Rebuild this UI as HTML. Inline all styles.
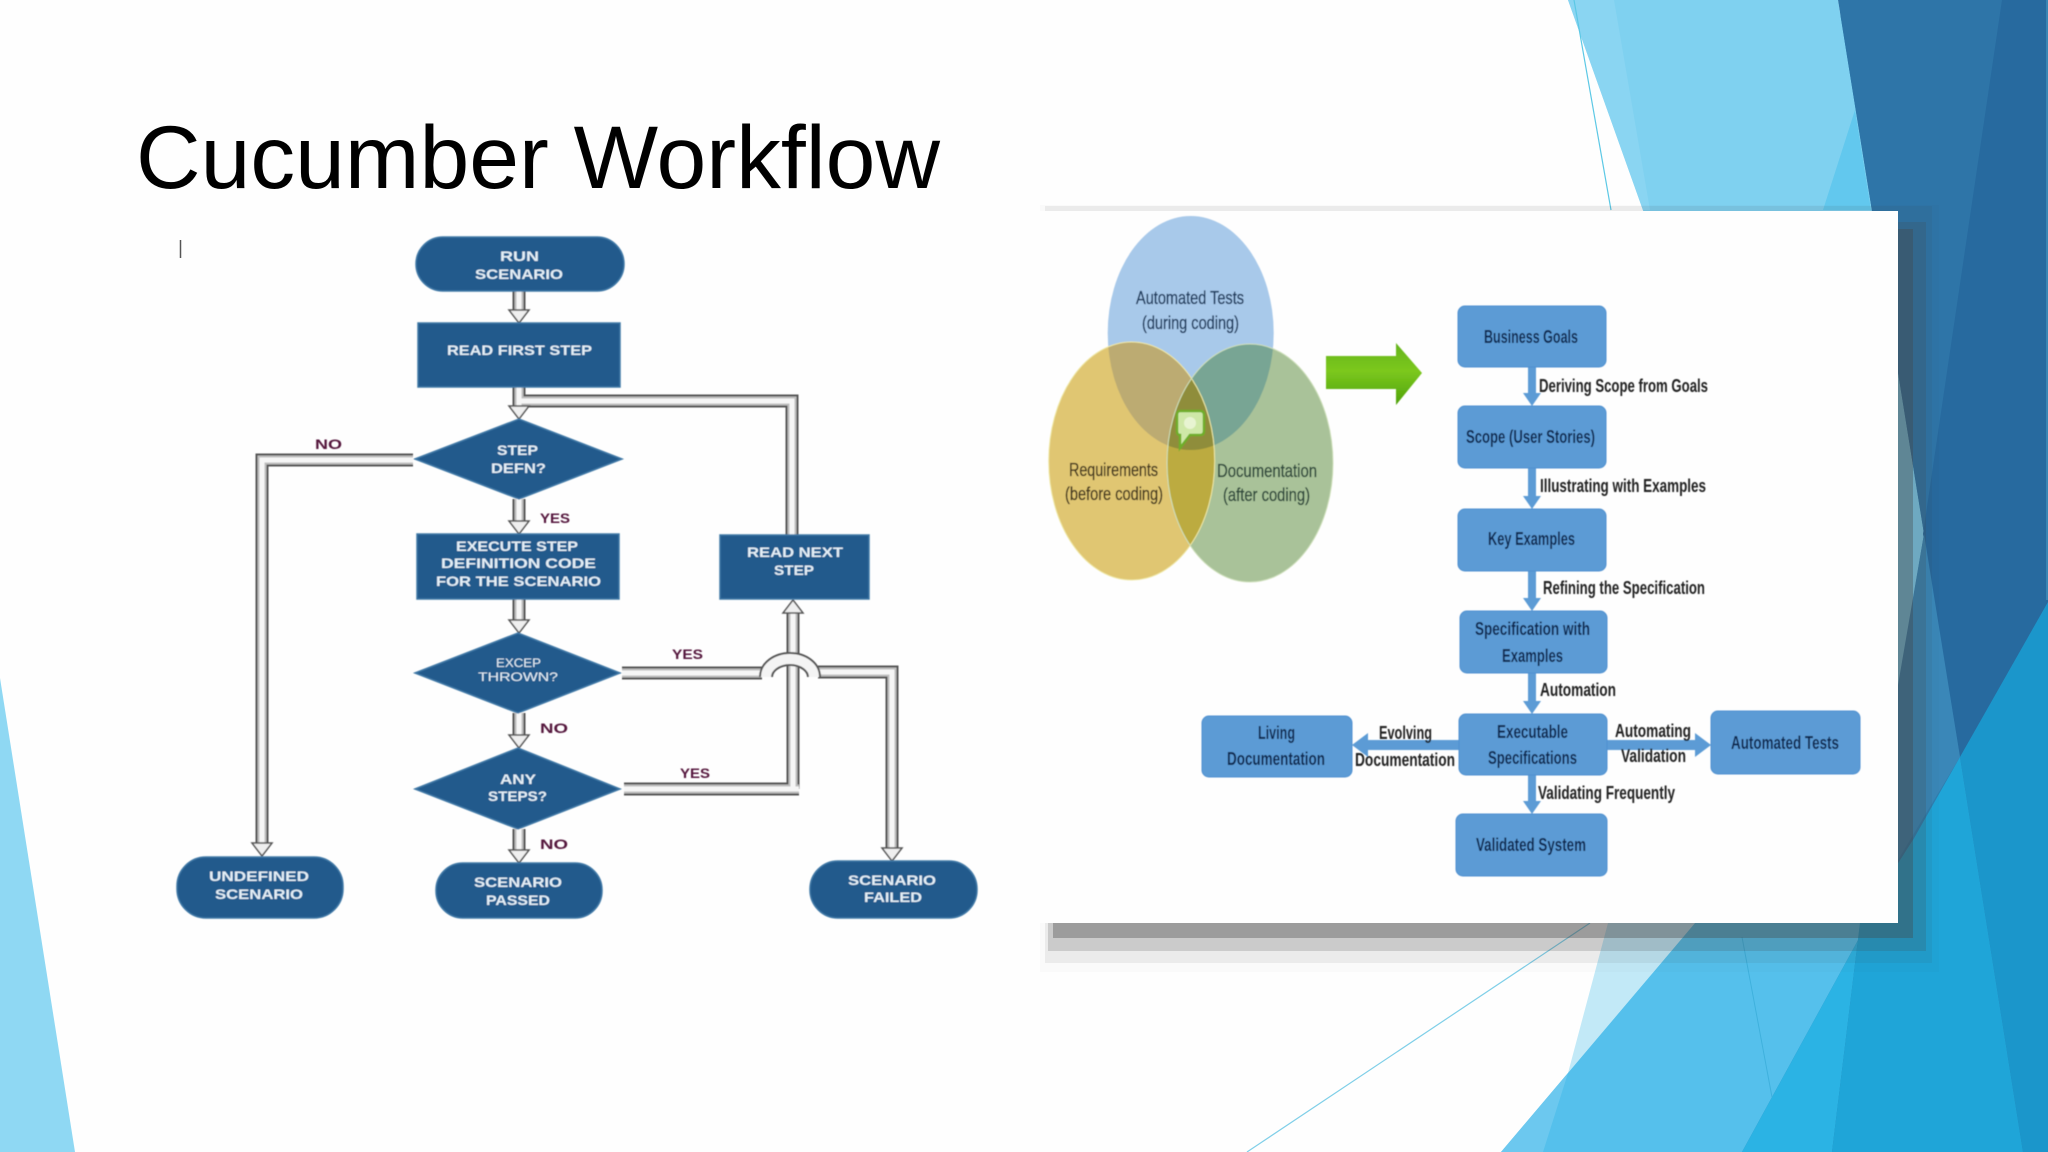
<!DOCTYPE html>
<html><head><meta charset="utf-8"><title>Cucumber Workflow</title>
<style>html,body{margin:0;padding:0;background:#fefefe;width:2048px;height:1152px;overflow:hidden}svg{display:block}text{font-family:"Liberation Sans",sans-serif}</style>
</head><body>
<svg width="2048" height="1152" viewBox="0 0 2048 1152" xmlns="http://www.w3.org/2000/svg">
<defs>
<linearGradient id="gr" x1="0" y1="0" x2="0" y2="1"><stop offset="0" stop-color="#64b41a"/><stop offset=".45" stop-color="#7cc81f"/><stop offset="1" stop-color="#4fa208"/></linearGradient>
<filter id="b1" x="-5%" y="-5%" width="110%" height="110%"><feGaussianBlur stdDeviation="0.55"/></filter>
<filter id="b2" x="-5%" y="-5%" width="110%" height="110%"><feGaussianBlur stdDeviation="0.55"/></filter>
<clipPath id="cT"><ellipse cx="1190.7" cy="333" rx="83" ry="117"/></clipPath>
<clipPath id="cL"><ellipse cx="1131.7" cy="461" rx="83" ry="119"/></clipPath>
<clipPath id="cR"><ellipse cx="1250" cy="463" rx="83" ry="119"/></clipPath>
<g id="c" fill="none">
<path d="M519 291V312"/><path d="M519 387V408"/><path d="M792 536V401H519"/>
<path d="M413 460H262V845"/><path d="M519 499V523"/><path d="M519 599V622"/>
<path d="M519 713V737"/><path d="M519 829V852"/>
<path d="M793 789V610"/><path d="M624 789H799"/>
<path d="M622 673H762"/><path d="M818 672H892V850"/>
</g>
<g id="arc" fill="none"><path d="M766 677A24 18 0 0 1 814 677"/></g>
<polygon id="hd" points="-10,0 10,0 0,13"/>
</defs>

<!-- background shapes -->
<polygon points="0,678 75,1152 0,1152" fill="#8fd8f3"/>
<polygon points="1840,0 2048,0 2048,1152 1740,1152 1860,923" fill="#2f7fb0"/>
<polygon points="1568,0 1838,0 1924,534 1860,915 1650,230" fill="#7fd1f0"/>
<polygon points="1568,0 1614,0 1650,210 1643,210" fill="#8ad5f2"/>
<polygon points="1855,110 1871,210 1823,210" fill="#62c8ee"/>
<polygon points="1838,0 2048,0 2048,602 1960,757" fill="#2e75a8"/>
<polygon points="2002,0 2048,0 2048,602 1960,757 1923,534" fill="#276a9f"/>
<rect x="2046" y="0" width="2" height="600" fill="#3a86b4"/>
<polygon points="1924,534 1960,757 1898,860 1898,685" fill="#3a87b8"/>
<line x1="1574" y1="0" x2="1611" y2="210" stroke="#5cc8e5" stroke-width="1.2"/>
<polygon points="1608,923 1695,923 1568,1073" fill="#c2e9f7"/>
<polygon points="1501,1152 1695,923 1700,900 1880,900 1742,1152" fill="#55c0ec"/>
<polygon points="1501,1152 1543,1152 1568,1073" fill="#6cc8ef"/>
<polygon points="1742,1152 1880,900 1913,840 1860,923 1832,1152" fill="#2bb3e4"/>
<polygon points="1960,757 2023,1152 1832,1152 1860,923 1913,840" fill="#1fa5d8"/>
<polygon points="1960,757 2048,602 2048,1152 2023,1152" fill="#1b96cb"/>
<line x1="1742" y1="937" x2="1772" y2="1097" stroke="#3fb0dd" stroke-width="1"/>
<line x1="1590" y1="923" x2="1247" y2="1152" stroke="#7fcfe8" stroke-width="1.2"/>

<!-- picture shadow -->
<rect x="1040" y="205" width="899" height="767" fill="#444" opacity=".02"/>
<rect x="1045" y="206" width="887" height="757" fill="#444" opacity=".08"/>
<rect x="1048" y="222" width="878" height="729" fill="#444" opacity=".19"/>
<rect x="1053" y="229" width="860" height="709" fill="#444" opacity=".35"/>
<rect x="1027" y="211" width="871" height="712" fill="#fefefe"/>

<!-- title -->
<text x="136" y="188" font-size="89" fill="#000" textLength="804" lengthAdjust="spacingAndGlyphs">Cucumber Workflow</text>
<line x1="180.500" y1="240" x2="180.500" y2="258" stroke="#555" stroke-width="1.5"/>

<!-- flowchart -->
<g filter="url(#b1)">
<use href="#c" stroke="#555" stroke-width="13"/>
<use href="#c" stroke="#bdbdbd" stroke-width="9"/>
<use href="#c" stroke="#f6f6f6" stroke-width="5"/>
<use href="#arc" stroke="#555" stroke-width="14"/>
<use href="#arc" stroke="#f4f4f4" stroke-width="10"/>
<g fill="#efefef" stroke="#555" stroke-width="1.5">
<use href="#hd" transform="translate(519,310)"/><use href="#hd" transform="translate(519,406)"/>
<use href="#hd" transform="translate(262,843)"/><use href="#hd" transform="translate(519,521)"/>
<use href="#hd" transform="translate(519,620)"/><use href="#hd" transform="translate(519,735)"/>
<use href="#hd" transform="translate(519,850)"/><use href="#hd" transform="translate(892,848)"/>
<use href="#hd" transform="translate(793,613) scale(1,-1)"/>
</g>
<g fill="#225a8c" stroke="#3f78a6" stroke-width="1.5">
<rect x="416" y="237" width="208" height="54" rx="27"/>
<rect x="418" y="323" width="202" height="64"/>
<polygon points="415,459 519,419 622,459 519,499"/>
<rect x="417" y="534" width="202" height="65"/>
<rect x="720" y="535" width="149" height="64"/>
<polygon points="415,673 518,633 620,673 518,713"/>
<polygon points="415,789 518,748 620,789 518,829"/>
<rect x="177" y="857" width="166" height="61" rx="29"/>
<rect x="436" y="863" width="166" height="55" rx="27"/>
<rect x="810" y="861" width="167" height="57" rx="28"/>
</g>
<g fill="#e4eff7" font-size="14" font-weight="bold">
<text x="500" y="261" textLength="39" lengthAdjust="spacingAndGlyphs">RUN</text>
<text x="475" y="279" textLength="88" lengthAdjust="spacingAndGlyphs">SCENARIO</text>
<text x="447" y="355" textLength="145" lengthAdjust="spacingAndGlyphs">READ FIRST STEP</text>
<text x="497" y="455" textLength="41" lengthAdjust="spacingAndGlyphs">STEP</text>
<text x="491" y="473" textLength="55" lengthAdjust="spacingAndGlyphs">DEFN?</text>
<text x="456" y="551" textLength="122" lengthAdjust="spacingAndGlyphs">EXECUTE STEP</text>
<text x="441" y="568" textLength="155" lengthAdjust="spacingAndGlyphs">DEFINITION CODE</text>
<text x="436" y="586" textLength="165" lengthAdjust="spacingAndGlyphs">FOR THE SCENARIO</text>
<text x="747" y="557" textLength="96" lengthAdjust="spacingAndGlyphs">READ NEXT</text>
<text x="774" y="575" textLength="40" lengthAdjust="spacingAndGlyphs">STEP</text>
<text x="496" y="667" textLength="45" font-size="12" font-weight="normal" lengthAdjust="spacingAndGlyphs">EXCEP</text>
<text x="478" y="681" textLength="80" font-size="12" font-weight="normal" lengthAdjust="spacingAndGlyphs">THROWN?</text>
<text x="500" y="784" textLength="36" lengthAdjust="spacingAndGlyphs">ANY</text>
<text x="488" y="801" textLength="59" lengthAdjust="spacingAndGlyphs">STEPS?</text>
<text x="209" y="881" textLength="100" lengthAdjust="spacingAndGlyphs">UNDEFINED</text>
<text x="215" y="899" textLength="88" lengthAdjust="spacingAndGlyphs">SCENARIO</text>
<text x="474" y="887" textLength="88" lengthAdjust="spacingAndGlyphs">SCENARIO</text>
<text x="486" y="905" textLength="64" lengthAdjust="spacingAndGlyphs">PASSED</text>
<text x="848" y="885" textLength="88" lengthAdjust="spacingAndGlyphs">SCENARIO</text>
<text x="864" y="902" textLength="58" lengthAdjust="spacingAndGlyphs">FAILED</text>
</g>
<g fill="#54183c" font-size="14" font-weight="bold">
<text x="315" y="449" textLength="27" lengthAdjust="spacingAndGlyphs">NO</text>
<text x="540" y="523" textLength="30" lengthAdjust="spacingAndGlyphs">YES</text>
<text x="672" y="659" textLength="31" lengthAdjust="spacingAndGlyphs">YES</text>
<text x="540" y="733" textLength="28" lengthAdjust="spacingAndGlyphs">NO</text>
<text x="680" y="778" textLength="30" lengthAdjust="spacingAndGlyphs">YES</text>
<text x="540" y="849" textLength="28" lengthAdjust="spacingAndGlyphs">NO</text>
</g>
</g>

<!-- venn -->
<g filter="url(#b2)">
<ellipse cx="1190.7" cy="333" rx="83" ry="117" fill="#a8c9ea"/>
<ellipse cx="1250" cy="463" rx="83" ry="119" fill="#a9c299"/>
<ellipse cx="1131.7" cy="461" rx="83" ry="119" fill="#e0c672"/>
<g clip-path="url(#cL)"><ellipse cx="1190.7" cy="333" rx="83" ry="117" fill="#bcab72"/></g>
<g clip-path="url(#cR)"><ellipse cx="1190.7" cy="333" rx="83" ry="117" fill="#78a594"/></g>
<g clip-path="url(#cR)"><ellipse cx="1131.7" cy="461" rx="83" ry="119" fill="#bcab3f"/></g>
<g clip-path="url(#cT)"><g clip-path="url(#cR)"><ellipse cx="1131.7" cy="461" rx="83" ry="119" fill="#8f8d3a"/></g></g>
<ellipse cx="1131.7" cy="461" rx="83" ry="119" fill="none" stroke="#efe8a6" stroke-width="1"/>
<ellipse cx="1250" cy="463" rx="83" ry="119" fill="none" stroke="#cfe0bc" stroke-width="1"/>
<path d="M1180 411H1200Q1204 411 1204 415V431Q1204 435 1200 435H1190L1180 448V435Q1177 435 1177 431V415Q1177 411 1180 411Z" fill="#cfe8a8" stroke="#6fae2a" stroke-width="2.500"/>
<circle cx="1190" cy="423" r="6" fill="#e8f4d2"/>
<g font-size="18" stroke-width=".35">
<text x="1136" y="304" textLength="108" lengthAdjust="spacingAndGlyphs" fill="#1f3d60" stroke="#1f3d60">Automated Tests</text>
<text x="1142" y="329" textLength="97" lengthAdjust="spacingAndGlyphs" fill="#1f3d60" stroke="#1f3d60">(during coding)</text>
<text x="1069" y="476" textLength="89" lengthAdjust="spacingAndGlyphs" fill="#463a20" stroke="#463a20">Requirements</text>
<text x="1065" y="500" textLength="98" lengthAdjust="spacingAndGlyphs" fill="#463a20" stroke="#463a20">(before coding)</text>
<text x="1217" y="477" textLength="100" lengthAdjust="spacingAndGlyphs" fill="#2f4a3c" stroke="#2f4a3c">Documentation</text>
<text x="1223" y="501" textLength="87" lengthAdjust="spacingAndGlyphs" fill="#2f4a3c" stroke="#2f4a3c">(after coding)</text>
</g>
<polygon points="1326,356 1396,356 1396,343 1422,373 1396,405 1396,389 1326,389" fill="url(#gr)"/>

<!-- right flow -->
<g fill="#5b9bd5">
<path d="M1528 367H1536V393H1541L1532 406L1523 393H1528Z"/>
<path d="M1528 468H1536V496H1541L1532 509L1523 496H1528Z"/>
<path d="M1528 571H1536V598H1541L1532 611L1523 598H1528Z"/>
<path d="M1528 673H1536V701H1541L1532 714L1523 701H1528Z"/>
<path d="M1528 775H1536V801H1541L1532 814L1523 801H1528Z"/>
<path d="M1459 740V750H1368V757L1352 745L1368 733V740Z"/>
<path d="M1607 740V750H1695V757L1711 745L1695 733V740Z"/>
</g>
<g fill="#5b9bd5" stroke="#4f90d0" stroke-width="1">
<rect x="1458" y="306" width="148" height="61" rx="7"/>
<rect x="1458" y="406" width="148" height="62" rx="7"/>
<rect x="1458" y="509" width="148" height="62" rx="7"/>
<rect x="1460" y="611" width="147" height="62" rx="7"/>
<rect x="1459" y="714" width="148" height="61" rx="7"/>
<rect x="1456" y="814" width="151" height="62" rx="7"/>
<rect x="1202" y="716" width="150" height="61" rx="7"/>
<rect x="1711" y="711" width="149" height="63" rx="7"/>
</g>
<g font-size="18" font-weight="bold" fill="#0c2850">
<text x="1484" y="343" textLength="94" lengthAdjust="spacingAndGlyphs">Business Goals</text>
<text x="1466" y="443" textLength="129" lengthAdjust="spacingAndGlyphs">Scope (User Stories)</text>
<text x="1488" y="545" textLength="87" lengthAdjust="spacingAndGlyphs">Key Examples</text>
<text x="1475" y="635" textLength="115" lengthAdjust="spacingAndGlyphs">Specification with</text>
<text x="1502" y="662" textLength="61" lengthAdjust="spacingAndGlyphs">Examples</text>
<text x="1497" y="738" textLength="71" lengthAdjust="spacingAndGlyphs">Executable</text>
<text x="1488" y="764" textLength="89" lengthAdjust="spacingAndGlyphs">Specifications</text>
<text x="1476" y="851" textLength="110" lengthAdjust="spacingAndGlyphs">Validated System</text>
<text x="1258" y="739" textLength="37" lengthAdjust="spacingAndGlyphs">Living</text>
<text x="1227" y="765" textLength="98" lengthAdjust="spacingAndGlyphs">Documentation</text>
<text x="1731" y="749" textLength="108" lengthAdjust="spacingAndGlyphs">Automated Tests</text>
</g>
<g font-size="18" font-weight="bold" fill="#222">
<text x="1539" y="392" textLength="169" lengthAdjust="spacingAndGlyphs">Deriving Scope from Goals</text>
<text x="1540" y="492" textLength="166" lengthAdjust="spacingAndGlyphs">Illustrating with Examples</text>
<text x="1543" y="594" textLength="162" lengthAdjust="spacingAndGlyphs">Refining the Specification</text>
<text x="1540" y="696" textLength="76" lengthAdjust="spacingAndGlyphs">Automation</text>
<text x="1379" y="739" textLength="53" lengthAdjust="spacingAndGlyphs">Evolving</text>
<text x="1355" y="766" textLength="100" lengthAdjust="spacingAndGlyphs">Documentation</text>
<text x="1615" y="737" textLength="76" lengthAdjust="spacingAndGlyphs">Automating</text>
<text x="1621" y="762" textLength="65" lengthAdjust="spacingAndGlyphs">Validation</text>
<text x="1538" y="799" textLength="137" lengthAdjust="spacingAndGlyphs">Validating Frequently</text>
</g>
</g>
</svg>
</body></html>
